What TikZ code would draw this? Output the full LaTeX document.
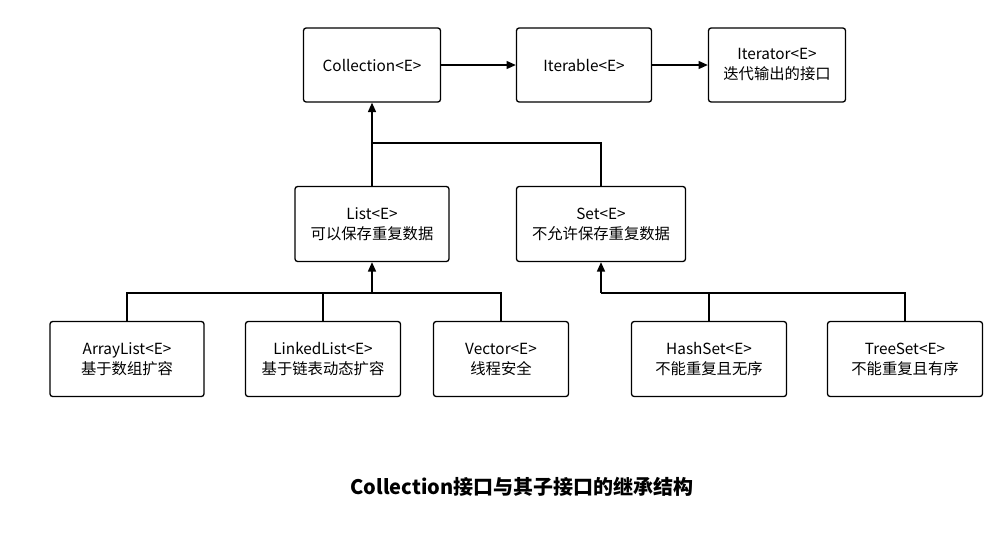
\documentclass[tikz,border=0pt]{standalone}
\usepackage{fontspec}
\setmainfont{Noto Sans CJK SC}
\usetikzlibrary{arrows.meta}
\begin{document}
\begin{tikzpicture}[x=0.75pt,y=-0.75pt,
 box/.style={draw,line width=1pt,rounded corners=2pt,align=center,font=\fontsize{11.5}{15}\selectfont,inner sep=0pt},
 arr/.style={line width=1pt,-{Triangle[length=7pt,width=6pt]}},
 ln/.style={line width=1pt}]
\useasboundingbox (0,0) rectangle (1008,537);
\node[box,minimum width=137*0.75pt,minimum height=74*0.75pt] (col) at (372,65) {Collection<E>};
\node[box,minimum width=135*0.75pt,minimum height=74*0.75pt] (itb) at (584,65) {Iterable<E>};
\node[box,minimum width=137*0.75pt,minimum height=74*0.75pt] (itr) at (777,65) {Iterator<E>\\迭代输出的接口};
\node[box,minimum width=154*0.75pt,minimum height=75*0.75pt] (list) at (372,224) {List<E>\\可以保存重复数据};
\node[box,minimum width=169*0.75pt,minimum height=75*0.75pt] (set) at (601,224) {Set<E>\\不允许保存重复数据};
\node[box,minimum width=154*0.75pt,minimum height=75*0.75pt] (al) at (127,359) {ArrayList<E>\\基于数组扩容};
\node[box,minimum width=155*0.75pt,minimum height=75*0.75pt] (ll) at (323,359) {LinkedList<E>\\基于链表动态扩容};
\node[box,minimum width=135*0.75pt,minimum height=75*0.75pt] (vec) at (501,359) {Vector<E>\\线程安全};
\node[box,minimum width=155*0.75pt,minimum height=75*0.75pt] (hs) at (709,359) {HashSet<E>\\不能重复且无序};
\node[box,minimum width=155*0.75pt,minimum height=75*0.75pt] (ts) at (905,359) {TreeSet<E>\\不能重复且有序};
\node[font=\bfseries\fontsize{15}{18}\selectfont] (title) at (522,487) {Collection接口与其子接口的继承结构};
\draw[arr] (col) -- (itb);
\draw[arr] (itb) -- (itr);
\draw[arr] (list) -- (col);
\coordinate (sj) at (372,143);
\draw[ln] (set.north) |- (sj);
\coordinate (lj) at (372,293);
\coordinate (rj) at (601,293);
\draw[ln] (al.north) |- (vec.north |- lj) -- (vec.north);
\draw[ln] (ll.north) -- (ll.north |- lj);
\draw[arr] (lj) -- (list.south);
\draw[ln] (hs.north) |- (rj);
\draw[ln] (ts.north) |- (rj);
\draw[arr] (rj) -- (set.south);
\end{tikzpicture}
\end{document}
